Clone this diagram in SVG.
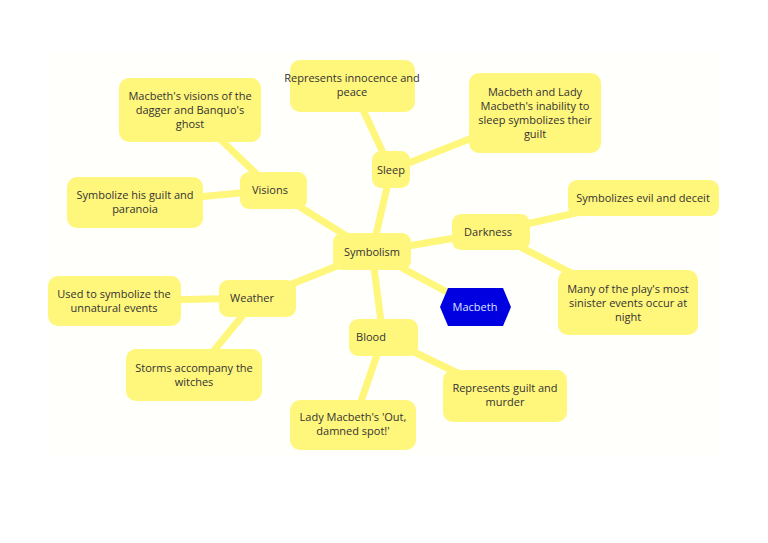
<svg xmlns="http://www.w3.org/2000/svg" width="768" height="543" viewBox="0 0 768 543">
<style>
.n{fill:#fff67c}
.t{font-family:"Open Sans","Noto Sans",sans-serif;font-size:11px;fill:#333;text-anchor:middle}
.c line{stroke:#fff67c;stroke-width:7;stroke-linecap:round}
</style>
<rect width="768" height="543" fill="#fff"/>
<rect x="48" y="52" width="672" height="404" fill="#fffffb"/>
<g class="c">
<line x1="372" y1="252" x2="475" y2="307"/>
<line x1="372" y1="252" x2="391" y2="170"/>
<line x1="391" y1="170" x2="352" y2="86"/>
<line x1="391" y1="170" x2="535" y2="113"/>
<line x1="372" y1="252" x2="491" y2="232"/>
<line x1="491" y1="232" x2="643" y2="198"/>
<line x1="491" y1="232" x2="628" y2="302"/>
<line x1="372" y1="252" x2="383" y2="337"/>
<line x1="383" y1="337" x2="505" y2="396"/>
<line x1="383" y1="337" x2="353" y2="425"/>
<line x1="372" y1="252" x2="257" y2="298"/>
<line x1="257" y1="298" x2="114" y2="301"/>
<line x1="257" y1="298" x2="194" y2="375"/>
<line x1="372" y1="252" x2="273" y2="190"/>
<line x1="273" y1="190" x2="190" y2="110"/>
<line x1="273" y1="190" x2="135" y2="203"/>
</g>
<g id="symbolism"><rect class="n" x="333" y="233" width="78" height="37" rx="9"/><text class="t" x="372" y="256">Symbolism</text></g>
<g id="macbeth"><polygon points="448,288 503,288 511,307 503,326 448,326 440,307" fill="#0000e0"/><text class="t" x="475" y="311" style="fill:#dde4ff">Macbeth</text></g>
<g id="sleep"><rect class="n" x="372" y="151" width="38" height="37" rx="9"/><text class="t" x="391" y="174">Sleep</text></g>
<g id="innocence"><rect class="n" x="290" y="60" width="125" height="52" rx="10"/><text class="t" x="352" y="82">Represents innocence and</text><text class="t" x="352" y="96">peace</text></g>
<g id="inability"><rect class="n" x="469" y="73" width="132" height="80" rx="10"/><text class="t" x="535" y="96">Macbeth and Lady</text><text class="t" x="535" y="110">Macbeth's inability to</text><text class="t" x="535" y="124">sleep symbolizes their</text><text class="t" x="535" y="138">guilt</text></g>
<g id="darkness"><rect class="n" x="452" y="214" width="78" height="36" rx="9"/><text class="t" x="488" y="236">Darkness</text></g>
<g id="evil"><rect class="n" x="568" y="180" width="151" height="36" rx="9"/><text class="t" x="643" y="202">Symbolizes evil and deceit</text></g>
<g id="night"><rect class="n" x="558" y="270" width="140" height="65" rx="10"/><text class="t" x="628" y="293">Many of the play's most</text><text class="t" x="628" y="307">sinister events occur at</text><text class="t" x="628" y="321">night</text></g>
<g id="blood"><rect class="n" x="349" y="319" width="69" height="37" rx="9"/><text class="t" x="371" y="341">Blood</text></g>
<g id="guilt"><rect class="n" x="443" y="370" width="124" height="52" rx="10"/><text class="t" x="505" y="392">Represents guilt and</text><text class="t" x="505" y="406">murder</text></g>
<g id="spot"><rect class="n" x="290" y="400" width="126" height="50" rx="10"/><text class="t" x="353" y="421">Lady Macbeth's 'Out,</text><text class="t" x="353" y="435">damned spot!'</text></g>
<g id="weather"><rect class="n" x="219" y="280" width="77" height="37" rx="9"/><text class="t" x="252" y="302">Weather</text></g>
<g id="unnatural"><rect class="n" x="48" y="276" width="133" height="50" rx="10"/><text class="t" x="114" y="298">Used to symbolize the</text><text class="t" x="114" y="312">unnatural events</text></g>
<g id="storms"><rect class="n" x="126" y="349" width="136" height="52" rx="10"/><text class="t" x="194" y="372">Storms accompany the</text><text class="t" x="194" y="386">witches</text></g>
<g id="visions"><rect class="n" x="240" y="172" width="67" height="37" rx="9"/><text class="t" x="270" y="194">Visions</text></g>
<g id="dagger"><rect class="n" x="119" y="78" width="142" height="64" rx="10"/><text class="t" x="190" y="100">Macbeth's visions of the</text><text class="t" x="190" y="114">dagger and Banquo's</text><text class="t" x="190" y="128">ghost</text></g>
<g id="paranoia"><rect class="n" x="67" y="177" width="136" height="51" rx="10"/><text class="t" x="135" y="199">Symbolize his guilt and</text><text class="t" x="135" y="213">paranoia</text></g>
</svg>
